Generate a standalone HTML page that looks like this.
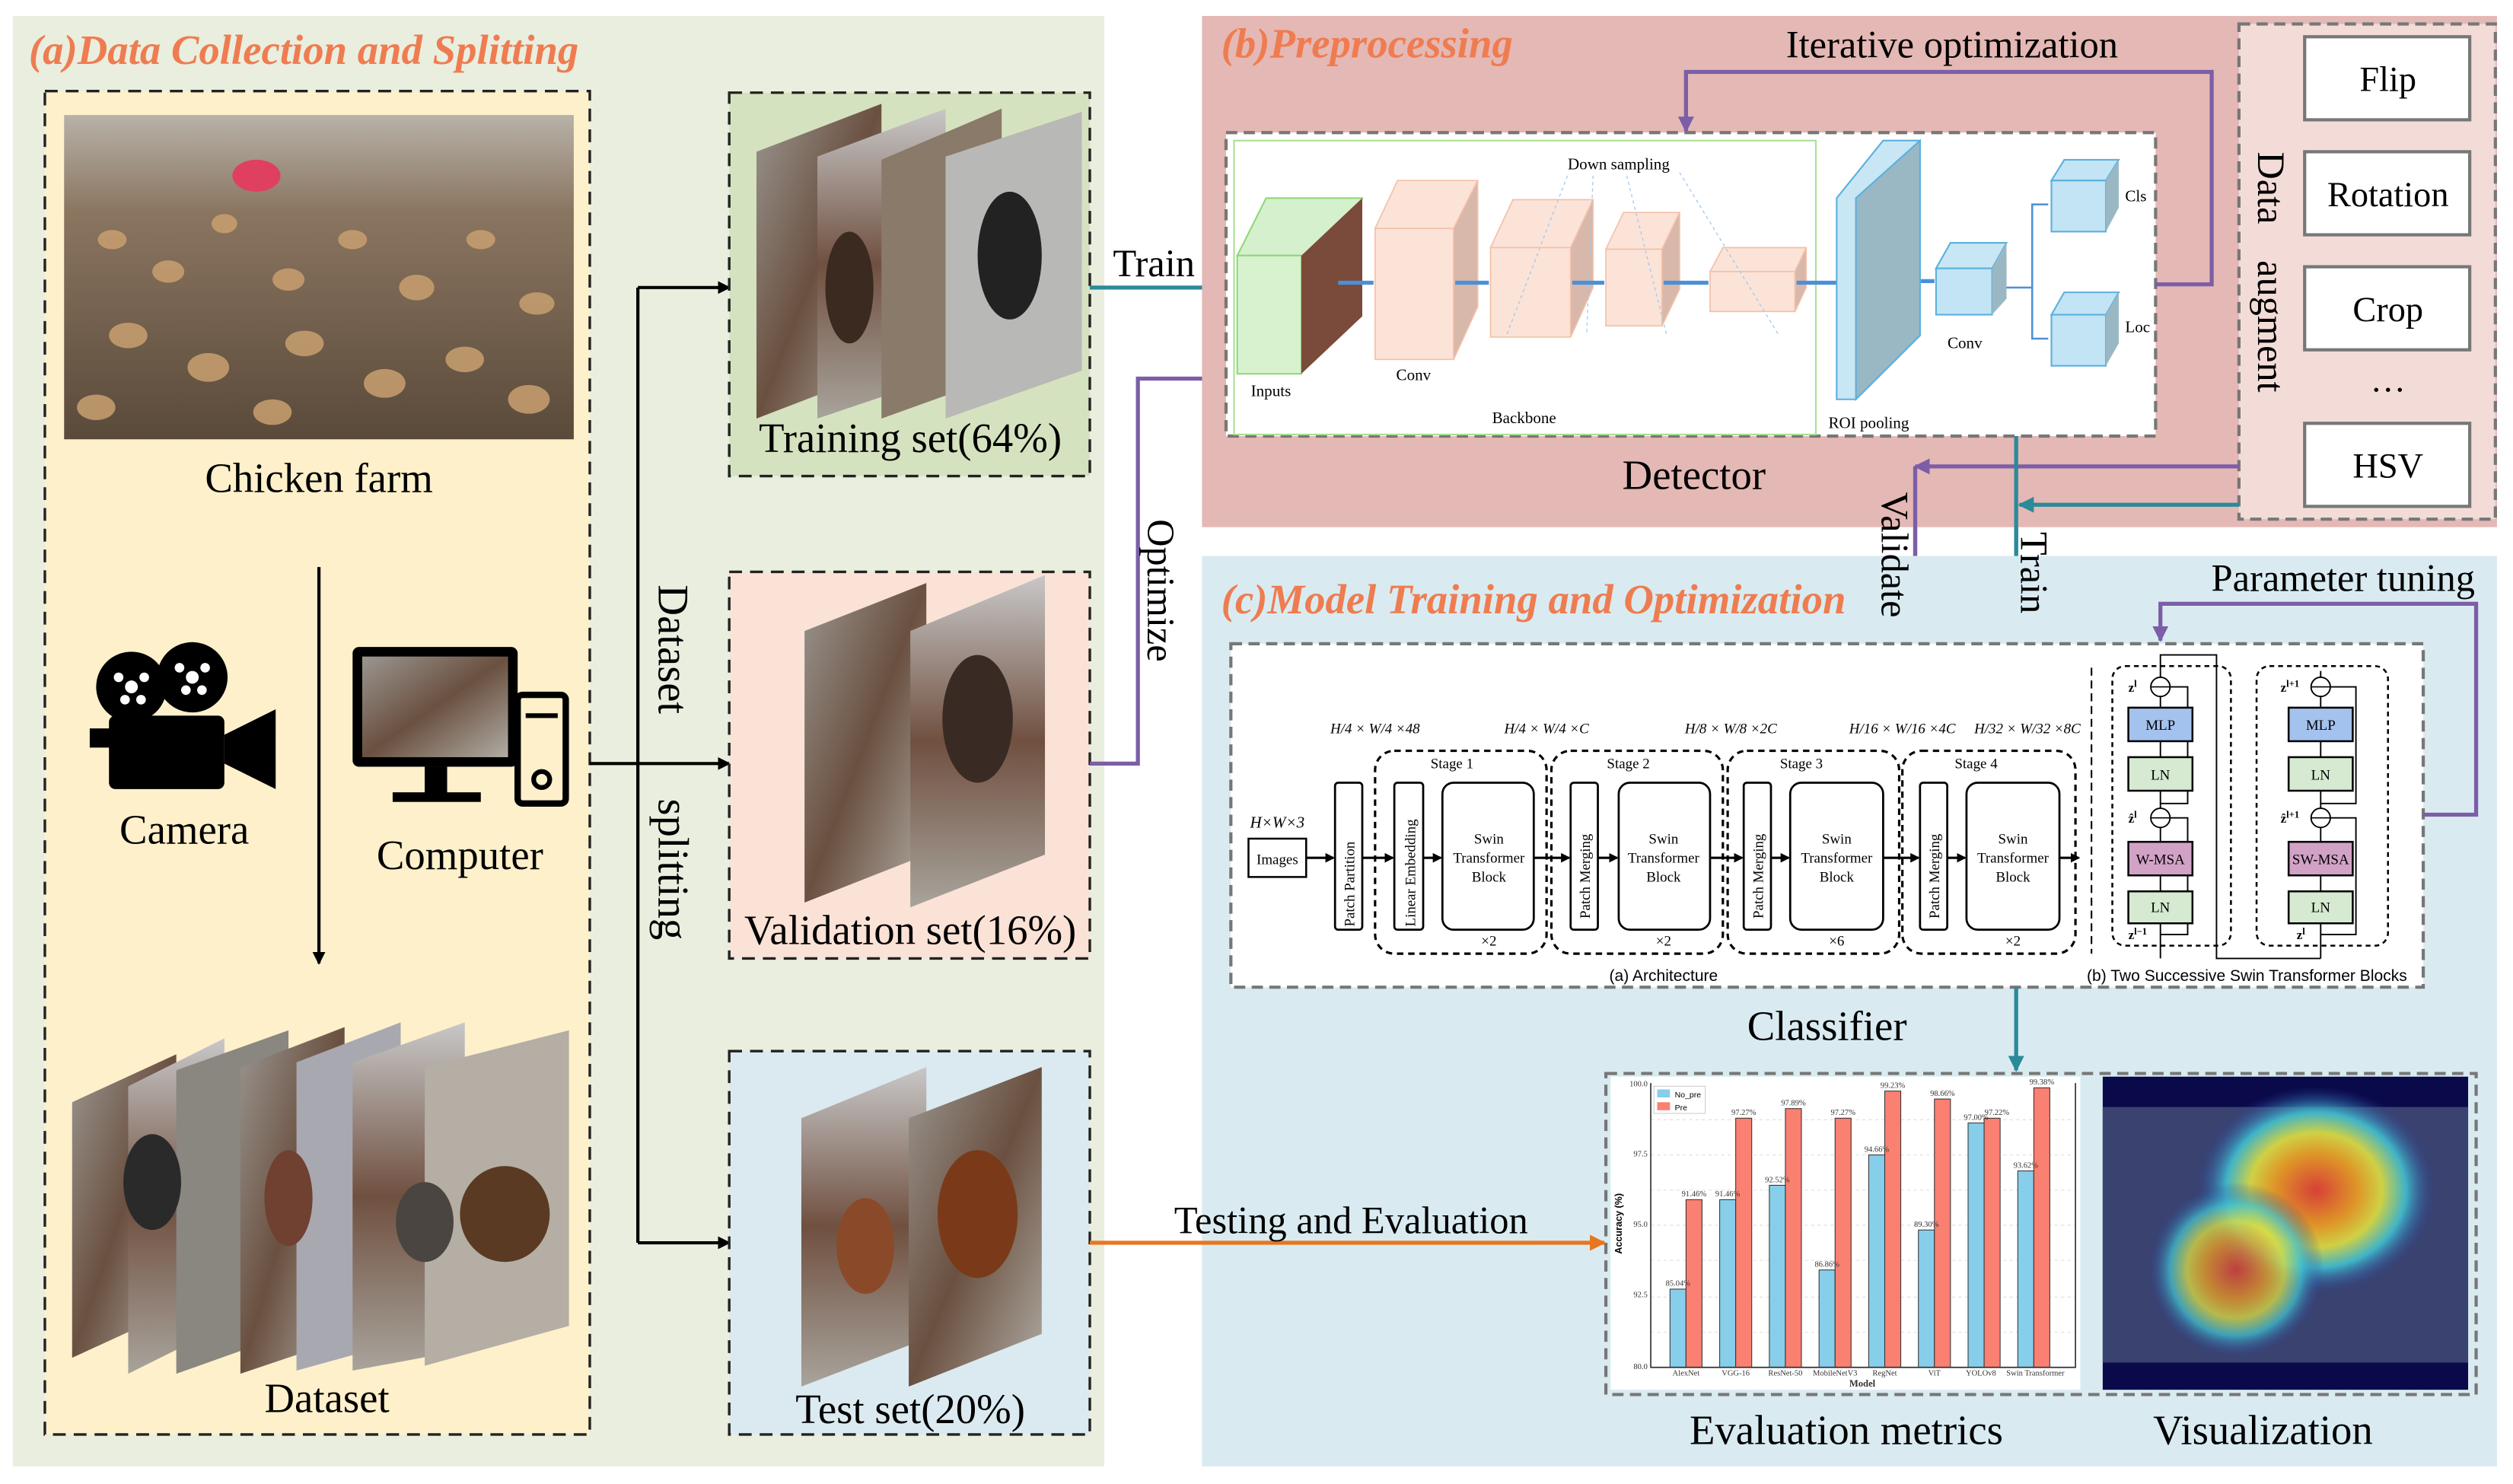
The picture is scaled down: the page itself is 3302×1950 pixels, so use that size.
<!DOCTYPE html>
<html><head><meta charset="utf-8"><style>
html,body{margin:0;padding:0;background:#fff;}
svg{display:block;}
text{font-family:"Liberation Serif",serif;}
.s{font-family:"Liberation Sans",sans-serif;}
</style></head><body>
<svg width="3302" height="1950" viewBox="0 0 1568 929" preserveAspectRatio="none" xmlns="http://www.w3.org/2000/svg">
<defs>
<marker id="ak" markerWidth="8" markerHeight="8" refX="7" refY="4" orient="auto" markerUnits="userSpaceOnUse"><path d="M0,0L8,4L0,8z" fill="#000"/></marker>
<marker id="at" markerWidth="10" markerHeight="10" refX="9" refY="5" orient="auto" markerUnits="userSpaceOnUse"><path d="M0,0L10,5L0,10z" fill="#2a8a9a"/></marker>
<marker id="ap" markerWidth="10" markerHeight="10" refX="9" refY="5" orient="auto" markerUnits="userSpaceOnUse"><path d="M0,0L10,5L0,10z" fill="#7b5ea7"/></marker>
<marker id="ao" markerWidth="10" markerHeight="10" refX="9" refY="5" orient="auto" markerUnits="userSpaceOnUse"><path d="M0,0L10,5L0,10z" fill="#e8761e"/></marker>
<marker id="as" markerWidth="6" markerHeight="6" refX="5" refY="3" orient="auto" markerUnits="userSpaceOnUse"><path d="M0,0L6,3L0,6z" fill="#000"/></marker>
<linearGradient id="farm" x1="0" y1="0" x2="0" y2="1"><stop offset="0" stop-color="#b8b2a8"/><stop offset="0.3" stop-color="#8a7560"/><stop offset="1" stop-color="#5a4a3a"/></linearGradient>
<linearGradient id="ph1" x1="0" y1="0" x2="1" y2="1"><stop offset="0" stop-color="#9a9690"/><stop offset="0.5" stop-color="#6a5040"/><stop offset="1" stop-color="#b0aca4"/></linearGradient>
<linearGradient id="ph2" x1="0" y1="0" x2="0" y2="1"><stop offset="0" stop-color="#c8c8c8"/><stop offset="0.5" stop-color="#705040"/><stop offset="1" stop-color="#a8a49c"/></linearGradient>
<radialGradient id="heat" cx="0.5" cy="0.5" r="0.5"><stop offset="0" stop-color="#e84030"/><stop offset="0.35" stop-color="#f0a020"/><stop offset="0.55" stop-color="#e0e040"/><stop offset="0.75" stop-color="#40c0d0"/><stop offset="1" stop-color="#2a3a9a" stop-opacity="0"/></radialGradient>
</defs>

<!-- Panel A -->
<rect x="8" y="10" width="681" height="908" fill="#e9eedf"/>
<text x="18" y="40" font-size="26" font-style="italic" font-weight="bold" fill="#ef7c50">(a)Data Collection and Splitting</text>
<rect x="28" y="57" width="340" height="841" fill="#fdf0cb" stroke="#222" stroke-width="1.6" stroke-dasharray="8,5"/>
<rect x="40" y="72" width="318" height="203" fill="url(#farm)"/>
<g fill="#c9a070" opacity="0.85">
<ellipse cx="70" cy="150" rx="9" ry="6"/><ellipse cx="105" cy="170" rx="10" ry="7"/><ellipse cx="140" cy="140" rx="8" ry="6"/><ellipse cx="180" cy="175" rx="10" ry="7"/><ellipse cx="220" cy="150" rx="9" ry="6"/><ellipse cx="260" cy="180" rx="11" ry="8"/><ellipse cx="300" cy="150" rx="9" ry="6"/><ellipse cx="335" cy="190" rx="11" ry="7"/><ellipse cx="80" cy="210" rx="12" ry="8"/><ellipse cx="130" cy="230" rx="13" ry="9"/><ellipse cx="190" cy="215" rx="12" ry="8"/><ellipse cx="240" cy="240" rx="13" ry="9"/><ellipse cx="290" cy="225" rx="12" ry="8"/><ellipse cx="330" cy="250" rx="13" ry="9"/><ellipse cx="60" cy="255" rx="12" ry="8"/><ellipse cx="170" cy="258" rx="12" ry="8"/>
</g>
<ellipse cx="160" cy="110" rx="15" ry="10" fill="#e04060"/>
<text x="199" y="308" font-size="26" text-anchor="middle">Chicken farm</text>
<line x1="199" y1="355" x2="199" y2="603" stroke="#000" stroke-width="2" marker-end="url(#ak)"/>
<!-- camera -->
<g fill="#000">
<circle cx="82" cy="430" r="22"/><circle cx="120" cy="424" r="22"/>
<rect x="68" y="448" width="72" height="46" rx="4"/>
<polygon points="140,460 172,444 172,494 140,478"/>
<rect x="56" y="456" width="14" height="12"/>
</g>
<g fill="#fff"><circle cx="82" cy="430" r="4"/><circle cx="74" cy="424" r="3"/><circle cx="90" cy="424" r="3"/><circle cx="78" cy="438" r="3"/><circle cx="88" cy="438" r="3"/><circle cx="120" cy="424" r="4"/><circle cx="112" cy="418" r="3"/><circle cx="128" cy="418" r="3"/><circle cx="116" cy="432" r="3"/><circle cx="126" cy="432" r="3"/></g>
<text x="115" y="528" font-size="26" text-anchor="middle">Camera</text>
<!-- computer -->
<rect x="220" y="405" width="103" height="75" rx="4" fill="#000"/>
<rect x="226" y="411" width="91" height="63" fill="url(#ph1)"/>
<rect x="265" y="480" width="14" height="18" fill="#000"/><rect x="245" y="496" width="55" height="6" fill="#000"/>
<rect x="323" y="435" width="30" height="68" rx="3" fill="none" stroke="#000" stroke-width="4"/>
<circle cx="338" cy="488" r="5" fill="none" stroke="#000" stroke-width="3"/>
<line x1="328" y1="448" x2="348" y2="448" stroke="#000" stroke-width="3"/>
<text x="287" y="544" font-size="26" text-anchor="middle">Computer</text>
<!-- dataset -->
<g>
<polygon points="45,690 110,660 110,820 45,850" fill="url(#ph1)"/>
<polygon points="80,680 140,650 140,830 80,860" fill="url(#ph2)"/>
<polygon points="110,670 180,645 180,835 110,860" fill="#8a8680"/>
<polygon points="150,668 215,643 215,838 150,860" fill="url(#ph1)"/>
<polygon points="185,665 250,640 250,840 185,858" fill="#a8a8b0"/>
<polygon points="220,665 290,640 290,845 220,858" fill="url(#ph2)"/>
<polygon points="265,668 355,645 355,830 265,855" fill="#b4aea4"/>
<ellipse cx="315" cy="760" rx="28" ry="30" fill="#5a3a22"/>
<ellipse cx="265" cy="765" rx="18" ry="25" fill="#4a4540"/>
<ellipse cx="180" cy="750" rx="15" ry="30" fill="#704030"/>
<ellipse cx="95" cy="740" rx="18" ry="30" fill="#2a2a2a"/>
</g>
<text x="204" y="884" font-size="26" text-anchor="middle">Dataset</text>
<!-- splitting -->
<line x1="368" y1="478" x2="398" y2="478" stroke="#000" stroke-width="2"/>
<line x1="398" y1="180" x2="398" y2="778" stroke="#000" stroke-width="2"/>
<line x1="398" y1="180" x2="455" y2="180" stroke="#000" stroke-width="2" marker-end="url(#ak)"/>
<line x1="398" y1="478" x2="455" y2="478" stroke="#000" stroke-width="2" marker-end="url(#ak)"/>
<line x1="398" y1="778" x2="455" y2="778" stroke="#000" stroke-width="2" marker-end="url(#ak)"/>
<text transform="translate(411,366) rotate(90)" font-size="27">Dataset</text>
<text transform="translate(411,500) rotate(90)" font-size="27">splitting</text>

<rect x="455" y="58" width="225" height="240" fill="#d5e2bf" stroke="#222" stroke-width="1.6" stroke-dasharray="8,5"/>
<polygon points="472,95 550,65 550,232 472,262" fill="url(#ph1)"/>
<polygon points="510,98 590,68 590,235 510,262" fill="url(#ph2)"/>
<polygon points="550,100 625,68 625,235 550,262" fill="#8a7a6a"/>
<polygon points="590,98 675,70 675,232 590,262" fill="#b8b8b6"/>
<ellipse cx="630" cy="160" rx="20" ry="40" fill="#222"/>
<ellipse cx="530" cy="180" rx="15" ry="35" fill="#3a2a20"/>
<text x="568" y="283" font-size="26" text-anchor="middle">Training set(64%)</text>

<rect x="455" y="358" width="225" height="242" fill="#fbe2d6" stroke="#222" stroke-width="1.6" stroke-dasharray="8,5"/>
<polygon points="502,395 578,365 578,535 502,565" fill="url(#ph1)"/>
<polygon points="568,395 652,360 652,535 568,568" fill="url(#ph2)"/>
<ellipse cx="610" cy="450" rx="22" ry="40" fill="#3a2a24"/>
<text x="568" y="591" font-size="26" text-anchor="middle">Validation set(16%)</text>

<rect x="455" y="658" width="225" height="240" fill="#dbeaf0" stroke="#222" stroke-width="1.6" stroke-dasharray="8,5"/>
<polygon points="500,700 578,668 578,838 500,868" fill="url(#ph2)"/>
<polygon points="567,700 650,668 650,835 567,868" fill="url(#ph1)"/>
<ellipse cx="610" cy="760" rx="25" ry="40" fill="#7a3a1a"/>
<ellipse cx="540" cy="780" rx="18" ry="30" fill="#8a4a2a"/>
<text x="568" y="891" font-size="26" text-anchor="middle">Test set(20%)</text>

<line x1="680" y1="180" x2="765" y2="180" stroke="#2a8a9a" stroke-width="2.5" marker-end="url(#at)"/>
<text x="720" y="173" font-size="24" text-anchor="middle">Train</text>
<polyline points="680,478 710,478 710,237 765,237" fill="none" stroke="#7b5ea7" stroke-width="2.5" marker-end="url(#ap)"/>
<text transform="translate(716,325) rotate(90)" font-size="24">Optimize</text>

<!-- Panel B -->
<rect x="750" y="10" width="808" height="320" fill="#e4b8b4"/>
<text x="762" y="36" font-size="26" font-style="italic" font-weight="bold" fill="#ef7c50">(b)Preprocessing</text>
<text x="1218" y="36" font-size="24" text-anchor="middle">Iterative optimization</text>
<rect x="765" y="83" width="580" height="190" fill="#fff" stroke="#777" stroke-width="2" stroke-dasharray="7,4"/>
<rect x="770" y="88" width="363" height="184" fill="none" stroke="#a8e090" stroke-width="1"/>
<!-- inputs -->
<polygon points="772,160 790,124 850,124 832,160" fill="#d5f0cc" stroke="#90d878"/>
<rect x="772" y="160" width="40" height="74" fill="#d8f2d0" stroke="#90d878"/>
<polygon points="812,160 850,124 850,198 812,234" fill="#7a4a3a"/>
<text x="793" y="248" font-size="10" text-anchor="middle">Inputs</text>
<g fill="#fbe3d8" stroke="#f4c0a8" stroke-width="0.8">
<polygon points="858,143 872,113 922,113 907,143"/><rect x="858" y="143" width="49" height="82"/><polygon points="907,143 922,113 922,192 907,225" fill="#d8b8aa"/>
<polygon points="930,155 944,125 994,125 980,155"/><rect x="930" y="155" width="50" height="56"/><polygon points="980,155 994,125 994,180 980,211" fill="#d8b8aa"/>
<polygon points="1002,156 1013,133 1048,133 1037,156"/><rect x="1002" y="156" width="35" height="48"/><polygon points="1037,156 1048,133 1048,181 1037,204" fill="#d8b8aa"/>
<polygon points="1067,170 1075,155 1127,155 1120,170"/><rect x="1067" y="170" width="53" height="25"/><polygon points="1120,170 1127,155 1127,180 1120,195" fill="#d8b8aa"/>
</g>
<g stroke="#9cc8f0" stroke-width="0.6" stroke-dasharray="2,2"><line x1="978" y1="110" x2="940" y2="210"/><line x1="994" y1="110" x2="990" y2="210"/><line x1="1015" y1="110" x2="1040" y2="210"/><line x1="1048" y1="108" x2="1110" y2="210"/></g>
<text x="1010" y="106" font-size="10" text-anchor="middle">Down sampling</text>
<text x="882" y="238" font-size="10" text-anchor="middle">Conv</text>
<text x="951" y="265" font-size="10" text-anchor="middle">Backbone</text>
<g stroke="#4a90d8" stroke-width="2.5"><line x1="835" y1="177" x2="857" y2="177"/><line x1="908" y1="177" x2="929" y2="177"/><line x1="981" y1="177" x2="1001" y2="177"/><line x1="1038" y1="177" x2="1066" y2="177"/><line x1="1121" y1="177" x2="1146" y2="177"/><line x1="1190" y1="176" x2="1207" y2="176"/></g>
<polygon points="1146,124 1175,88 1198,88 1198,210 1158,250 1146,250" fill="#c8e6f4" stroke="#5ab0e0"/>
<polygon points="1158,124 1198,88 1198,210 1158,250" fill="#9ab8c4" stroke="#5ab0e0"/>
<text x="1166" y="268" font-size="10" text-anchor="middle">ROI pooling</text>
<polygon points="1208,168 1217,152 1252,152 1243,168" fill="#c8e6f4" stroke="#5ab0e0"/>
<rect x="1208" y="168" width="35" height="29" fill="#c2e4f4" stroke="#5ab0e0"/>
<polygon points="1243,168 1252,152 1252,187 1243,197" fill="#9ab8c4"/>
<text x="1226" y="218" font-size="10" text-anchor="middle">Conv</text>
<polyline points="1252,180 1268,180 1268,128 1278,128" fill="none" stroke="#4a90d8" stroke-width="1.2"/>
<polyline points="1268,180 1268,212 1278,212" fill="none" stroke="#4a90d8" stroke-width="1.2"/>
<g fill="#c2e4f4" stroke="#5ab0e0"><polygon points="1280,113 1288,100 1322,100 1314,113"/><rect x="1280" y="113" width="34" height="32"/><polygon points="1280,197 1288,183 1322,183 1314,197"/><rect x="1280" y="197" width="34" height="32"/></g>
<polygon points="1314,113 1322,100 1322,130 1314,145" fill="#9ab8c4"/><polygon points="1314,197 1322,183 1322,215 1314,229" fill="#9ab8c4"/>
<text x="1326" y="126" font-size="10">Cls</text><text x="1326" y="208" font-size="10">Loc</text>
<text x="1057" y="306" font-size="26" text-anchor="middle">Detector</text>
<polyline points="1345,178 1380,178 1380,45 1052,45 1052,82" fill="none" stroke="#7b5ea7" stroke-width="2.5" marker-end="url(#ap)"/>
<!-- augment -->
<rect x="1397" y="15" width="160" height="310" fill="#f3dcd8" stroke="#777" stroke-width="2" stroke-dasharray="7,4"/>
<g fill="#fff" stroke="#777" stroke-width="2"><rect x="1438" y="23" width="103" height="52"/><rect x="1438" y="95" width="103" height="52"/><rect x="1438" y="167" width="103" height="52"/><rect x="1438" y="265" width="103" height="52"/></g>
<g font-size="22" text-anchor="middle"><text x="1490" y="57">Flip</text><text x="1490" y="129">Rotation</text><text x="1490" y="201">Crop</text><text x="1490" y="299">HSV</text><text x="1490" y="245">…</text></g>
<text transform="translate(1409,95) rotate(90)" font-size="24">Data</text>
<text transform="translate(1409,163) rotate(90)" font-size="24">augment</text>
<polyline points="1397,292 1195,292" fill="none" stroke="#7b5ea7" stroke-width="2.5" marker-end="url(#ap)"/>
<line x1="1195" y1="292" x2="1195" y2="402" stroke="#7b5ea7" stroke-width="2.5" marker-end="url(#ap)"/>
<line x1="1397" y1="316" x2="1260" y2="316" stroke="#2a8a9a" stroke-width="2.5" marker-end="url(#at)"/>
<line x1="1258" y1="273" x2="1258" y2="402" stroke="#2a8a9a" stroke-width="2.5" marker-end="url(#at)"/>

<!-- Panel C -->
<rect x="750" y="348" width="808" height="570" fill="#d9ebf1"/>
<line x1="1195" y1="330" x2="1195" y2="348" stroke="#7b5ea7" stroke-width="2.5"/>
<line x1="1258" y1="330" x2="1258" y2="348" stroke="#2a8a9a" stroke-width="2.5"/>
<text transform="translate(1174,308) rotate(90)" font-size="24">Validate</text>
<text transform="translate(1261,333) rotate(90)" font-size="24">Train</text>
<text x="762" y="384" font-size="26" font-style="italic" font-weight="bold" fill="#ef7c50">(c)Model Training and Optimization</text>
<text x="1462" y="370" font-size="24" text-anchor="middle">Parameter tuning</text>
<rect x="768" y="403" width="744" height="215" fill="#fff" stroke="#777" stroke-width="2" stroke-dasharray="7,4"/>
<polyline points="1512,510 1545,510 1545,378 1348,378 1348,401" fill="none" stroke="#7b5ea7" stroke-width="2.5" marker-end="url(#ap)"/>
<!-- swin architecture -->
<g font-size="9" text-anchor="middle" font-style="italic">
<text x="797" y="518" font-size="10">H×W×3</text>
<text x="858" y="459">H/4 × W/4 ×48</text>
<text x="965" y="459">H/4 × W/4 ×C</text>
<text x="1080" y="459">H/8 × W/8 ×2C</text>
<text x="1187" y="459">H/16 × W/16 ×4C</text>
<text x="1265" y="459">H/32 × W/32 ×8C</text>
</g>
<rect x="779" y="525" width="36" height="24" fill="#fff" stroke="#000" stroke-width="1.2"/>
<text x="797" y="541" font-size="9" text-anchor="middle">Images</text>
<g fill="none" stroke="#000" stroke-width="1.5" stroke-dasharray="4,3">
<rect x="858" y="470" width="107" height="127" rx="12"/><rect x="968" y="470" width="107" height="127" rx="12"/><rect x="1078" y="470" width="107" height="127" rx="12"/><rect x="1187" y="470" width="108" height="127" rx="12"/>
</g>
<g fill="#fff" stroke="#000" stroke-width="1.3">
<rect x="833" y="490" width="17" height="92" rx="2"/><rect x="870" y="490" width="18" height="92" rx="2"/><rect x="900" y="490" width="57" height="92" rx="7"/>
<rect x="980" y="490" width="17" height="92" rx="2"/><rect x="1010" y="490" width="57" height="92" rx="7"/>
<rect x="1088" y="490" width="17" height="92" rx="2"/><rect x="1117" y="490" width="58" height="92" rx="7"/>
<rect x="1198" y="490" width="17" height="92" rx="2"/><rect x="1227" y="490" width="58" height="92" rx="7"/>
</g>
<g font-size="9" class="s">
<text transform="translate(845,580) rotate(-90)">Patch Partition</text>
<text transform="translate(883,580) rotate(-90)">Linear Embedding</text>
<text transform="translate(992,575) rotate(-90)">Patch Merging</text>
<text transform="translate(1100,575) rotate(-90)">Patch Merging</text>
<text transform="translate(1210,575) rotate(-90)">Patch Merging</text>
</g>
<g font-size="9" text-anchor="middle">
<text x="906" y="481">Stage 1</text><text x="1016" y="481">Stage 2</text><text x="1124" y="481">Stage 3</text><text x="1233" y="481">Stage 4</text>
<text x="929" y="528">Swin</text><text x="929" y="540">Transformer</text><text x="929" y="552">Block</text>
<text x="1038" y="528">Swin</text><text x="1038" y="540">Transformer</text><text x="1038" y="552">Block</text>
<text x="1146" y="528">Swin</text><text x="1146" y="540">Transformer</text><text x="1146" y="552">Block</text>
<text x="1256" y="528">Swin</text><text x="1256" y="540">Transformer</text><text x="1256" y="552">Block</text>
<text x="929" y="592">×2</text><text x="1038" y="592">×2</text><text x="1146" y="592">×6</text><text x="1256" y="592">×2</text>
</g>
<g stroke="#000" stroke-width="1.5">
<line x1="815" y1="537" x2="832" y2="537" marker-end="url(#as)"/><line x1="850" y1="537" x2="869" y2="537" marker-end="url(#as)"/><line x1="888" y1="537" x2="899" y2="537" marker-end="url(#as)"/>
<line x1="957" y1="537" x2="979" y2="537" marker-end="url(#as)"/><line x1="997" y1="537" x2="1009" y2="537" marker-end="url(#as)"/>
<line x1="1067" y1="537" x2="1087" y2="537" marker-end="url(#as)"/><line x1="1105" y1="537" x2="1116" y2="537" marker-end="url(#as)"/>
<line x1="1175" y1="537" x2="1197" y2="537" marker-end="url(#as)"/><line x1="1215" y1="537" x2="1226" y2="537" marker-end="url(#as)"/>
<line x1="1285" y1="537" x2="1297" y2="537" marker-end="url(#as)"/>
</g>
<text x="1038" y="614" font-size="10" class="s" text-anchor="middle">(a) Architecture</text>
<text x="1402" y="614" font-size="10" class="s" text-anchor="middle">(b) Two Successive Swin Transformer Blocks</text>
<line x1="1305" y1="418" x2="1305" y2="597" stroke="#000" stroke-width="1" stroke-dasharray="5,3"/>
<!-- blocks -->
<g fill="none" stroke="#000" stroke-width="1.2" stroke-dasharray="3,2.5"><rect x="1318" y="417" width="74" height="175" rx="8"/><rect x="1408" y="417" width="82" height="175" rx="8"/></g>
<g stroke="#000" stroke-width="0.9" fill="none">
<line x1="1348" y1="600" x2="1348" y2="420"/><polyline points="1348,420 1348,410 1383,410 1383,600 1448,600"/><line x1="1448" y1="600" x2="1448" y2="420"/>
<polyline points="1348,585 1365,585 1365,512 1353,512"/><polyline points="1348,503 1365,503 1365,430 1353,430"/>
<polyline points="1448,585 1470,585 1470,512 1453,512"/><polyline points="1448,503 1470,503 1470,430 1453,430"/>
</g>
<g fill="#fff" stroke="#000" stroke-width="0.9"><circle cx="1348" cy="430" r="6"/><circle cx="1348" cy="512" r="6"/><circle cx="1448" cy="430" r="6"/><circle cx="1448" cy="512" r="6"/></g>
<g stroke="#000" stroke-width="0.8"><line x1="1342" y1="430" x2="1354" y2="430"/><line x1="1342" y1="512" x2="1354" y2="512"/><line x1="1442" y1="430" x2="1454" y2="430"/><line x1="1442" y1="512" x2="1454" y2="512"/></g>
<g stroke="#000" stroke-width="1.2">
<rect x="1328" y="443" width="40" height="21" fill="#a4c2ee"/><rect x="1328" y="474" width="40" height="21" fill="#d6ead2"/><rect x="1328" y="527" width="40" height="21" fill="#d2a2c6"/><rect x="1328" y="558" width="40" height="20" fill="#d6ead2"/>
<rect x="1428" y="443" width="40" height="21" fill="#a4c2ee"/><rect x="1428" y="474" width="40" height="21" fill="#d6ead2"/><rect x="1428" y="527" width="40" height="21" fill="#d2a2c6"/><rect x="1428" y="558" width="40" height="20" fill="#d6ead2"/>
</g>
<g font-size="9" text-anchor="middle"><text x="1348" y="457">MLP</text><text x="1348" y="488">LN</text><text x="1348" y="541">W-MSA</text><text x="1348" y="571">LN</text>
<text x="1448" y="457">MLP</text><text x="1448" y="488">LN</text><text x="1448" y="541">SW-MSA</text><text x="1448" y="571">LN</text></g>
<g font-size="8" font-weight="bold"><text x="1328" y="433">z<tspan font-size="6" dy="-3">l</tspan></text><text x="1328" y="515">ẑ<tspan font-size="6" dy="-3">l</tspan></text><text x="1328" y="588">z<tspan font-size="6" dy="-3">l−1</tspan></text>
<text x="1423" y="433">z<tspan font-size="6" dy="-3">l+1</tspan></text><text x="1423" y="515">ẑ<tspan font-size="6" dy="-3">l+1</tspan></text><text x="1433" y="588">z<tspan font-size="6" dy="-3">l</tspan></text></g>
<text x="1140" y="651" font-size="26" text-anchor="middle">Classifier</text>
<line x1="1258" y1="618" x2="1258" y2="670" stroke="#2a8a9a" stroke-width="2.5" marker-end="url(#at)"/>
<!-- eval -->
<rect x="1002" y="672" width="543" height="201" fill="#d9ebf1" stroke="#777" stroke-width="2" stroke-dasharray="7,4"/>
<rect x="1005" y="674" width="293" height="196" fill="#fff"/>
<g stroke="#ddd" stroke-width="0.5" stroke-dasharray="2,2">
<line x1="1030" y1="723" x2="1295" y2="723"/><line x1="1030" y1="767" x2="1295" y2="767"/><line x1="1030" y1="812" x2="1295" y2="812"/><line x1="1030" y1="745" x2="1295" y2="745"/><line x1="1030" y1="789" x2="1295" y2="789"/><line x1="1030" y1="834" x2="1295" y2="834"/><line x1="1030" y1="701" x2="1295" y2="701"/>
</g>
<g stroke="#333" stroke-width="0.5">
<rect x="1042" y="807" width="10" height="49" fill="#87ceeb"/><rect x="1052" y="751" width="10" height="105" fill="#fa8072"/>
<rect x="1073" y="751" width="10" height="105" fill="#87ceeb"/><rect x="1083" y="700" width="10" height="156" fill="#fa8072"/>
<rect x="1104" y="742" width="10" height="114" fill="#87ceeb"/><rect x="1114" y="694" width="10" height="162" fill="#fa8072"/>
<rect x="1135" y="795" width="10" height="61" fill="#87ceeb"/><rect x="1145" y="700" width="10" height="156" fill="#fa8072"/>
<rect x="1166" y="723" width="10" height="133" fill="#87ceeb"/><rect x="1176" y="683" width="10" height="173" fill="#fa8072"/>
<rect x="1197" y="770" width="10" height="86" fill="#87ceeb"/><rect x="1207" y="688" width="10" height="168" fill="#fa8072"/>
<rect x="1228" y="703" width="10" height="153" fill="#87ceeb"/><rect x="1238" y="700" width="10" height="156" fill="#fa8072"/>
<rect x="1259" y="733" width="10" height="123" fill="#87ceeb"/><rect x="1269" y="681" width="10" height="175" fill="#fa8072"/>
</g>
<polyline points="1030,678 1030,856 1295,856 1295,678" fill="none" stroke="#333" stroke-width="0.8"/>
<g font-size="5" class="s" text-anchor="middle" fill="#333">
<text x="1047" y="805">85.04%</text><text x="1057" y="749">91.46%</text><text x="1078" y="749">91.46%</text><text x="1088" y="698">97.27%</text>
<text x="1109" y="740">92.52%</text><text x="1119" y="692">97.89%</text><text x="1140" y="793">86.86%</text><text x="1150" y="698">97.27%</text>
<text x="1171" y="721">94.66%</text><text x="1181" y="681">99.23%</text><text x="1202" y="768">89.30%</text><text x="1212" y="686">98.66%</text>
<text x="1233" y="701">97.00%</text><text x="1246" y="698">97.22%</text><text x="1264" y="731">93.62%</text><text x="1274" y="679">99.38%</text>
<text x="1052" y="861">AlexNet</text><text x="1083" y="861">VGG-16</text><text x="1114" y="861">ResNet-50</text><text x="1145" y="861">MobileNetV3</text><text x="1176" y="861">RegNet</text><text x="1207" y="861">ViT</text><text x="1236" y="861">YOLOv8</text><text x="1270" y="861">Swin Transformer</text>
<text x="1162" y="868" font-weight="bold" font-size="6">Model</text>
</g>
<g font-size="5" class="s" text-anchor="end" fill="#333"><text x="1028" y="680">100.0</text><text x="1028" y="724">97.5</text><text x="1028" y="768">95.0</text><text x="1028" y="812">92.5</text><text x="1028" y="857">80.0</text></g>
<text transform="translate(1012,785) rotate(-90)" font-size="6" class="s" font-weight="bold">Accuracy (%)</text>
<rect x="1032" y="680" width="32" height="17" fill="#fff" stroke="#ccc" stroke-width="0.5"/>
<rect x="1034" y="682" width="8" height="5" fill="#87ceeb"/><rect x="1034" y="690" width="8" height="5" fill="#fa8072"/>
<text x="1045" y="687" font-size="5" class="s">No_pre</text><text x="1045" y="695" font-size="5" class="s">Pre</text>
<!-- heatmap -->
<rect x="1312" y="674" width="228" height="196" fill="#0a0a4a"/>
<rect x="1312" y="693" width="228" height="160" fill="#3a4270"/>
<ellipse cx="1445" cy="745" rx="75" ry="65" fill="url(#heat)" opacity="0.9"/>
<ellipse cx="1395" cy="795" rx="55" ry="55" fill="url(#heat)" opacity="0.75"/>
<text x="1152" y="904" font-size="26" text-anchor="middle">Evaluation metrics</text>
<text x="1412" y="904" font-size="26" text-anchor="middle">Visualization</text>
<line x1="680" y1="778" x2="1001" y2="778" stroke="#e8761e" stroke-width="2.5" marker-end="url(#ao)"/>
<text x="843" y="772" font-size="24" text-anchor="middle">Testing and Evaluation</text>
</svg>
</body></html>
